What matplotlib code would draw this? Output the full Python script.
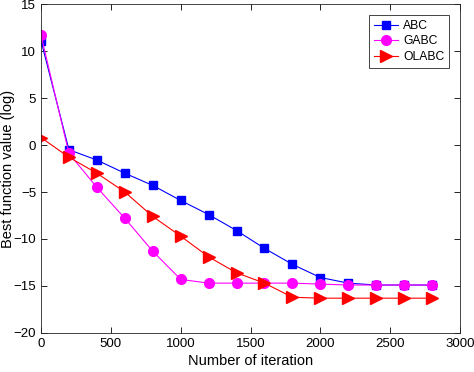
import matplotlib
matplotlib.use("Agg")
import matplotlib.pyplot as plt

plt.rcParams['font.family'] = ['Liberation Sans', 'DejaVu Sans']

iterations = [0, 200, 400, 600, 800, 1000, 1200, 1400, 1600, 1800, 2000, 2200, 2400, 2600, 2800]
abc = [11.1, -0.5, -1.6, -3.0, -4.3, -5.9, -7.4, -9.1, -11.0, -12.7, -14.1, -14.7, -14.9, -14.9, -14.9]
gabc = [11.7, -0.9, -4.5, -7.8, -11.3, -14.3, -14.7, -14.7, -14.7, -14.7, -14.8, -14.9, -14.9, -14.9, -14.9]
olabc = [0.8, -1.3, -3.0, -5.0, -7.6, -9.7, -11.9, -13.6, -14.7, -16.2, -16.3, -16.3, -16.3, -16.3, -16.3]

fig = plt.figure(figsize=(4.74, 3.72), dpi=100)
ax = fig.add_axes([0.0865, 0.105, 0.884, 0.884])

ax.plot(iterations, abc, color='#0000ff', lw=0.8, marker='s', ms=6, label='ABC')
ax.plot(iterations, gabc, color='#ff00ff', lw=0.8, marker='o', ms=7, label='GABC')
ax.plot(iterations, olabc, color='#ff0000', lw=0.8, marker='>', ms=8, label='OLABC')

ax.set_xlim(0, 3000)
ax.set_ylim(-20, 15)
ax.set_xticks(range(0, 3001, 500))
ax.set_yticks(range(-20, 16, 5))
ax.tick_params(direction='in', top=True, right=True, labelsize=9.5, length=4, width=0.6)
for s in ax.spines.values():
    s.set_linewidth(0.6)
    s.set_color('#262626')

ax.set_xlabel('Number of iteration', fontsize=10.5, labelpad=3)
ax.set_ylabel('Best function value (log)', fontsize=10.5)
ax.yaxis.set_label_coords(-0.062, 0.5)

leg = ax.legend(loc='upper right', fontsize=8.7, fancybox=False, framealpha=1,
                edgecolor='#262626', borderaxespad=0.9, handlelength=2.0,
                handletextpad=0.4, borderpad=0.4, labelspacing=0.3)
leg.get_frame().set_linewidth(0.6)

fig.savefig('out.png', dpi=100)
